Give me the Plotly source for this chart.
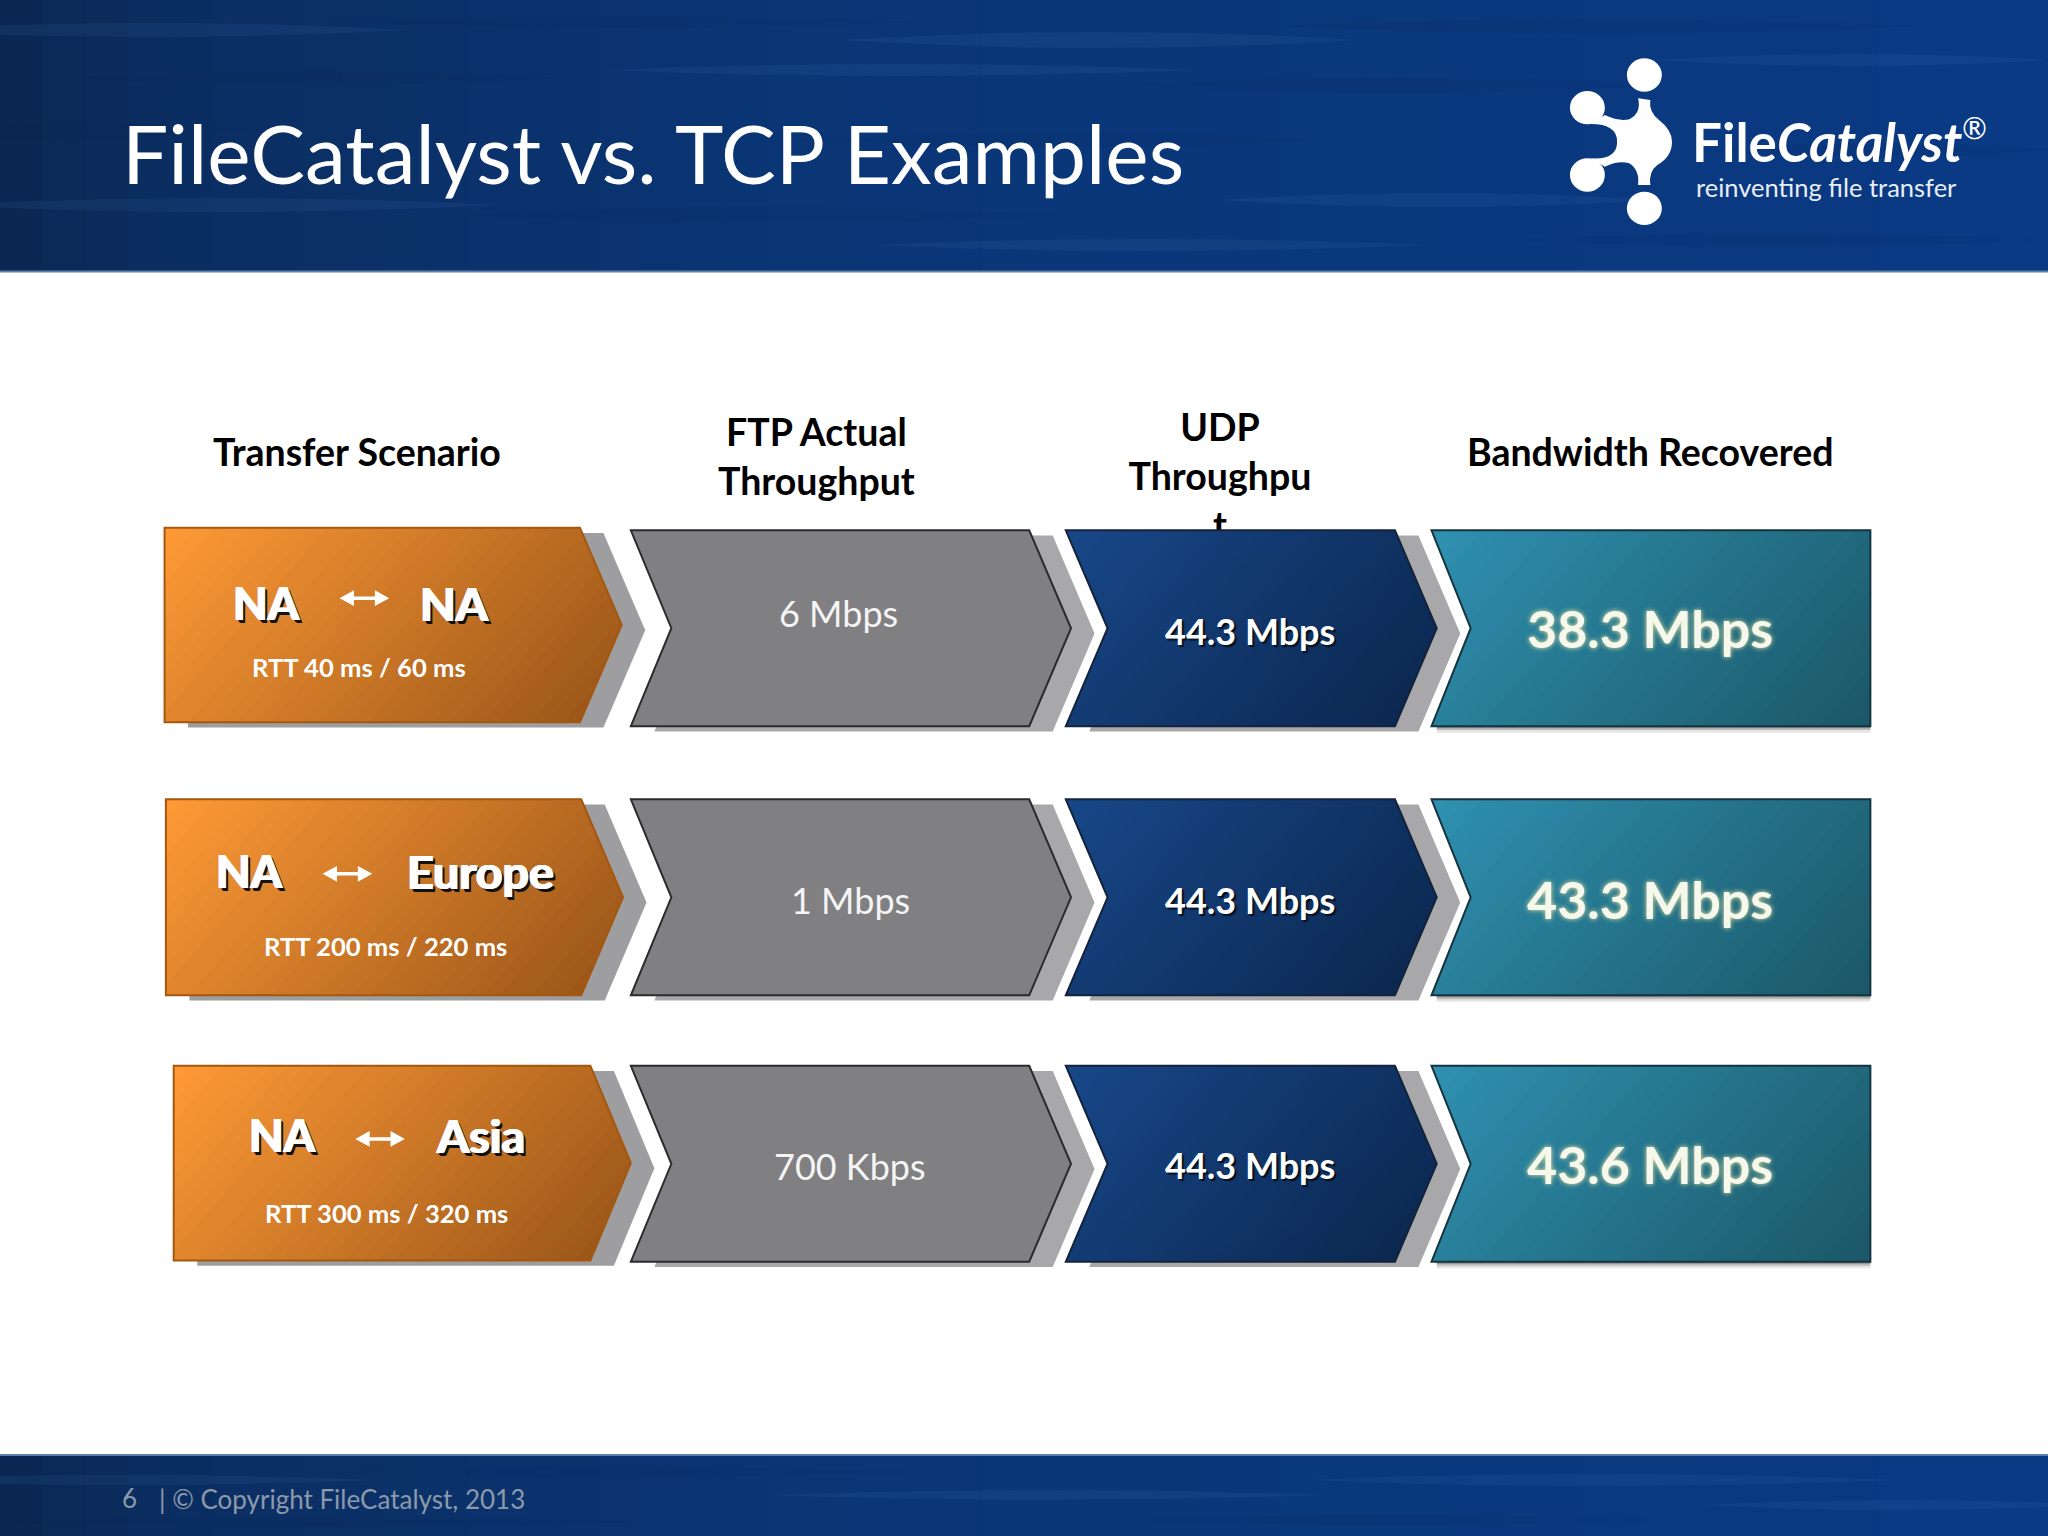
import plotly.graph_objects as go

# ---- content ----
scenario_from = ["NA", "NA", "NA"]
scenario_to = ["NA", "Europe", "Asia"]
rtt_labels = ["RTT 40 ms / 60 ms", "RTT 200 ms / 220 ms", "RTT 300 ms / 320 ms"]
ftp_labels = ["6 Mbps", "1 Mbps", "700 Kbps"]
udp_labels = ["44.3 Mbps", "44.3 Mbps", "44.3 Mbps"]
recovered_labels = ["38.3 Mbps", "43.3 Mbps", "43.6 Mbps"]
title_text = "FileCatalyst vs. TCP Examples"
footer_num = "6"
footer_text = "| © Copyright FileCatalyst, 2013"

# ---- layout geometry (reference units, scaled by S) ----
S = 2048 / 1568
W, H = 2048, 1536
FONT = "Lato"
rows_top = [(404, 553), (612, 762), (816, 965)]
rows_y = [(406, 556), (612, 762), (816, 966)]
orange_x = [(126, 444, 476), (127, 445, 477), (133, 452, 483)]
from_x = [204, 191, 216]
to_x = [348, 368, 368]
name_y = [462, 667, 869]
arrow_xy = [(279, 458), (266, 669), (291, 872)]
rtt_xy = [(275, 511), (295, 724), (296, 929)]
ftp_xy = [(642, 469), (651, 689), (651, 893)]
udp_y = [483, 689, 892]
rec_y = [481, 688, 891]
shapes, ann = [], []


def hexrgb(c):
    return tuple(int(c[i:i + 2], 16) for i in (1, 3, 5))


def mix(a, b, t):
    a, b = hexrgb(a), hexrgb(b)
    return "#%02x%02x%02x" % tuple(round(a[i] + (b[i] - a[i]) * t) for i in range(3))


def clip(poly, nx, ny, d, keep_ge=True):
    out = []
    sgn = 1 if keep_ge else -1
    for i, p in enumerate(poly):
        q = poly[(i + 1) % len(poly)]
        dp = sgn * (nx * p[0] + ny * p[1] - d)
        dq = sgn * (nx * q[0] + ny * q[1] - d)
        if dp >= 0:
            out.append(p)
        if dp * dq < 0:
            t = dp / (dp - dq)
            out.append((p[0] + (q[0] - p[0]) * t, p[1] + (q[1] - p[1]) * t))
    return out


def path(poly):
    return "M " + " L ".join(f"{x:.2f},{y:.2f}" for x, y in poly) + " Z"


def add_poly(poly, fill, line=None, lw=0, opacity=1):
    shapes.append(dict(type="path", path=path(poly), xref="x", yref="y", layer="above",
                       fillcolor=fill, opacity=opacity,
                       line=dict(color=line or fill, width=lw)))


def gradient(poly, c0, c1, nx=0.75, ny=0.66, n=36):
    vals = [nx * x + ny * y for x, y in poly]
    lo, hi = min(vals), max(vals)
    for i in range(n):
        a = lo + (hi - lo) * i / n
        piece = clip(poly, nx, ny, a, True)
        if not piece:
            continue
        if i < n - 1:  # overlap the next strip slightly so no seams appear
            piece = clip(piece, nx, ny, lo + (hi - lo) * (i + 1) / n + 1.5, False)
        if piece:
            add_poly(piece, mix(c0, c1, (i + .5) / n))


def scaled(pts):
    return [(x * S, y * S) for x, y in pts]


def chevron(x0, xs, xt, y0, y1, notch=None):
    mid = (y0 + y1) / 2
    pts = [(x0, y0), (xs, y0), (xt, mid), (xs, y1), (x0, y1)]
    if notch:
        pts.append((notch, mid))
    return scaled(pts)


def outline(poly, color, lw):
    shapes.append(dict(type="path", path=path(poly), xref="x", yref="y", layer="above",
                       fillcolor="rgba(0,0,0,0)", line=dict(color=color, width=lw)))


def text(x, y, s, size, color="#ffffff", bold=False, shadow=None, anchor="center", family=FONT):
    f = dict(family=family, size=size, color=color, weight=700 if bold else 400)
    if shadow:
        f["shadow"] = shadow
    ann.append(dict(x=x * S, y=y * S, xref="x", yref="y", text=s, showarrow=False, font=f,
                    xanchor=anchor, yanchor="middle", align=anchor))


# ---- banners ----
header_c = [(0, "#0a2853"), (.08, "#0b2e62"), (.4, "#0a3676"), (1, "#0a3a84")]
for top, bot in ((0, 272), (1455, 1536)):
    n = 48
    for i in range(n):
        t = i / (n - 1)
        for j in range(len(header_c) - 1):
            if header_c[j][0] <= t <= header_c[j + 1][0]:
                col = mix(header_c[j][1], header_c[j + 1][1],
                          (t - header_c[j][0]) / (header_c[j + 1][0] - header_c[j][0]))
                break
        x0, x1 = W * i / n, W * (i + 1) / n + 1
        add_poly([(x0, top), (x1, top), (x1, bot), (x0, bot)], col)

# water streaks: (x, y, half length, half thickness, light?)
streaks = [(150, 30, 260, 7, 1), (620, 22, 300, 6, 0), (1100, 40, 260, 8, 1), (1600, 26, 320, 7, 0),
           (320, 78, 240, 7, 0), (900, 70, 300, 6, 1), (1400, 85, 260, 8, 0), (1850, 60, 200, 6, 1),
           (60, 130, 200, 8, 0), (1060, 140, 260, 7, 0), (1440, 200, 220, 7, 1), (1880, 150, 180, 7, 0),
           (220, 205, 280, 7, 1), (760, 215, 300, 8, 0), (1150, 245, 280, 6, 1), (1780, 240, 260, 7, 0),
           (120, 1480, 260, 5, 1), (620, 1472, 300, 5, 0), (1050, 1495, 280, 5, 1), (1600, 1480, 300, 6, 1),
           (320, 1522, 320, 5, 0), (1400, 1520, 260, 5, 0), (1900, 1505, 200, 5, 1)]
for x, y, hl, ht, light in streaks:
    col = "#5a8fd0" if light else "#04214f"
    shapes.append(dict(type="path", xref="x", yref="y", layer="above", fillcolor=col, opacity=.09,
                       line=dict(width=0),
                       path=f"M {x-hl},{y} Q {x},{y-2*ht} {x+hl},{y} Q {x},{y+2*ht} {x-hl},{y} Z"))
add_poly([(0, 270.5), (W, 270.5), (W, 272.5), (0, 272.5)], "#5f80ab")
add_poly([(0, 1454), (W, 1454), (W, 1456), (0, 1456)], "#5f80ab")

# ---- row chevrons ----
for r in range(3):
    y0, y1 = rows_top[r]
    ox0, oxs, oxt = orange_x[r]
    dx, dy = 18, 4
    add_poly(chevron(ox0 + dx, oxs + dx, oxt + dx, y0 + dy, y1 + dy), "#9e9ea1")
    o = chevron(ox0, oxs, oxt, y0, y1)
    gradient(o, "#ff9a36", "#9c5719")
    outline(o, "#a4570f", 2)

    y0, y1 = rows_y[r]
    add_poly(chevron(483 + dx, 788 + dx, 820 + dx, y0 + dy, y1 + dy, 514 + dx), "#a8a8ab")
    g = chevron(483, 788, 820, y0, y1, 514)
    add_poly(g, "#807f82", "#2b2b2d", 2)
    add_poly(chevron(816 + dx, 1068 + dx, 1100 + dx, y0 + dy, y1 + dy, 848 + dx), "#a8a8ab")
    b = chevron(816, 1068, 1100, y0, y1, 848)
    gradient(b, "#184789", "#0b2850")
    outline(b, "#14233c", 2)
    for k, op in ((5, .10), (3, .18), (1.5, .25)):
        add_poly(scaled([(1100, y1 - 2 + 0), (1432, y1 - 2), (1432, y1 + k), (1100, y1 + k)]), "#000000", opacity=op)
    tl = chevron(1096, 1432, 1432, y0, y1, 1126)
    gradient(tl, "#2f91b1", "#1b5767")
    outline(tl, "#16343f", 2)

    # arrow between the two regions
    ax, ay = arrow_xy[r]
    hl, ah, al, sh = 19, 6, 11, 1.3
    add_poly(scaled([(ax - hl, ay), (ax - hl + al, ay - ah), (ax - hl + al, ay - sh), (ax + hl - al, ay - sh),
                     (ax + hl - al, ay - ah), (ax + hl, ay), (ax + hl - al, ay + ah), (ax + hl - al, ay + sh),
                     (ax - hl + al, ay + sh), (ax - hl + al, ay + ah)]), "#ffffff")

    hard = "1px 0 0 #ffffff, -1px 0 0 #ffffff, 3px 3px 0 #111111, 2px 2px 0 #111111"
    text(from_x[r], name_y[r], scenario_from[r], 45, bold=True, shadow=hard)
    text(to_x[r], name_y[r], scenario_to[r], 46.5, bold=True, shadow=hard)
    text(*rtt_xy[r], rtt_labels[r], 25.6, bold=True)
    text(*ftp_xy[r], ftp_labels[r], 36, color="#f4f4f4")
    text(957, udp_y[r], udp_labels[r], 36, bold=True, shadow="2px 2px 1px #05101f")
    text(1263, rec_y[r], recovered_labels[r], 52, color="#f6f8ee", bold=True, shadow="0 0 5px #efe9a0")

# ---- headers ----
text(273, 346, "Transfer Scenario", 37.5, color="#000000", bold=True)
text(625, 349, "FTP Actual<br>Throughput", 37.5, color="#000000", bold=True)
text(1264, 346, "Bandwidth Recovered", 37.5, color="#000000", bold=True)
# This one sits under the chevrons so that the wrapped last letter is cut off by the blue box.
udp_header = go.Scatter(x=[934 * S], y=[368 * S], mode="text", text=["UDP<br>Throughpu<br>t"],
                        textposition="middle center", hoverinfo="skip", showlegend=False,
                        textfont=dict(family=FONT, size=37.5, color="#000000", weight=700))

# ---- title / footer ----
text(92, 116, title_text, 82, anchor="left")
text(92, 1147, footer_num, 26, color="#8c99aa", anchor="left")
text(120, 1148, footer_text, 26, color="#8c99aa", anchor="left")

# ---- logo ----
LX, LY = 2.861, 3.0


def lx(v):
    return 1500 + v / LX


def ly(v):
    return v / LY


for cx, cy in ((413, 225), (250, 323), (250, 525), (413, 625)):
    shapes.append(dict(type="circle", xref="x", yref="y", layer="above", fillcolor="#ffffff", line=dict(width=0),
                       x0=lx(cx - 50), x1=lx(cx + 50), y0=ly(cy - 50), y1=ly(cy + 50)))
blob = [("M", 430, 300), ("Q", 425, 335, 455, 360), ("Q", 492, 390, 492, 425), ("Q", 492, 470, 450, 495),
        ("Q", 425, 515, 430, 555), ("L", 395, 555), ("Q", 400, 510, 370, 490), ("Q", 340, 480, 300, 500),
        ("L", 260, 475), ("Q", 335, 480, 335, 425), ("Q", 335, 372, 260, 372), ("L", 300, 345),
        ("Q", 340, 365, 370, 358), ("Q", 405, 340, 395, 295)]
seg = []
for s in blob:
    coords = " ".join(f"{lx(s[i]):.1f},{ly(s[i + 1]):.1f}" for i in range(1, len(s), 2))
    seg.append(f"{s[0]} {coords}")
shapes.append(dict(type="path", path=" ".join(seg) + " Z", xref="x", yref="y", layer="above",
                   fillcolor="#ffffff", line=dict(width=0)))
text(1294, 108, "File<i>Catalyst</i>", 53, bold=True, anchor="left")
text(1501, 97, "®", 30, anchor="left")
text(1297, 143, "reinventing file transfer", 25.5, color="#e8eef6", anchor="left")

fig = go.Figure(udp_header)
fig.update_layout(width=W, height=H, margin=dict(l=0, r=0, t=0, b=0), paper_bgcolor="#ffffff",
                  plot_bgcolor="#ffffff", shapes=shapes, annotations=ann, showlegend=False,
                  xaxis=dict(range=[0, W], visible=False, fixedrange=True),
                  yaxis=dict(range=[H, 0], visible=False, fixedrange=True))
fig.write_html("out.html", config=dict(displayModeBar=False),
               default_width=f"{W}px", default_height=f"{H}px",
               post_script="document.body.style.margin='0';document.body.style.overflow='hidden';")
